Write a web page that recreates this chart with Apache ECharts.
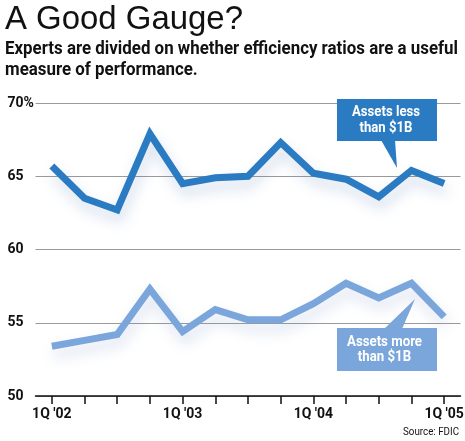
<!DOCTYPE html>
<html><head><meta charset="utf-8">
<script src="https://cdn.jsdelivr.net/npm/echarts@6/dist/echarts.min.js"></script>
<style>html,body{margin:0;padding:0;background:#fff}#c{width:465px;height:441px}</style>
</head><body><div id="c"></div>
<script>
const categories = ["1Q '02","2Q '02","3Q '02","4Q '02","1Q '03","2Q '03","3Q '03","4Q '03","1Q '04","2Q '04","3Q '04","4Q '04","1Q '05"];
const assetsLessThan1B = [65.7, 63.5, 62.7, 67.9, 64.5, 64.9, 65.0, 67.3, 65.2, 64.8, 63.6, 65.4, 64.5];
const assetsMoreThan1B = [53.4, 53.8, 54.2, 57.3, 54.4, 55.9, 55.2, 55.2, 56.3, 57.7, 56.7, 57.7, 55.4];
const yTicks = [50, 55, 60, 65, 70];
const xTickLabels = ["1Q '02", "1Q '03", "1Q '04", "1Q '05"];

const FONT = 'Roboto, "Liberation Sans", sans-serif';
const DARK = '#2b7bc3';
const LIGHT = '#7ba6db';

const ctx = document.createElement('canvas').getContext('2d');
function fitScale(text, font, target) {
  ctx.font = font;
  const w = Math.max(...text.split('\n').map(l => ctx.measureText(l).width));
  return target / w;
}

const subFont = 'bold 19px ' + FONT;
const subText = 'Experts are divided on whether efficiency ratios are a useful\nmeasure of performance.';
const calFont = 'bold 14px ' + FONT;
const titleFont = 'normal 34px "Liberation Sans", Arial, sans-serif';
const srcFont = 'normal 10px ' + FONT;

const chart = echarts.init(document.getElementById('c'), null, {renderer: 'canvas'});
chart.setOption({
  backgroundColor: '#fff',
  animation: false,
  grid: {left: 35.5, right: 4.5, top: 103, bottom: 45, containLabel: false, outerBoundsMode: 'none'},
  xAxis: {
    type: 'category',
    data: categories,
    boundaryGap: true,
    axisLine: {lineStyle: {color: '#111', width: 1.5}},
    axisTick: {show: true, alignWithLabel: true, interval: 0, length: 8, lineStyle: {color: '#111', width: 1.5}},
    axisLabel: {
      interval: 0, margin: 11,
      formatter: v => xTickLabels.includes(v) ? v : '',
      fontFamily: FONT, fontWeight: 'bold', fontSize: 14, color: '#111'
    },
    splitLine: {show: false}
  },
  yAxis: {
    type: 'value',
    min: yTicks[0], max: yTicks[yTicks.length - 1], interval: 5,
    axisLine: {show: false},
    axisTick: {show: false},
    axisLabel: {
      align: 'left', margin: 28,
      formatter: v => v === 70 ? '70%' : String(v),
      fontFamily: FONT, fontWeight: 'bold', fontSize: 14, color: '#111'
    },
    splitLine: {lineStyle: {color: '#9a9a9a', width: 1.2}}
  },
  series: [
    {
      name: 'Assets more than $1B', type: 'line', data: assetsMoreThan1B,
      symbol: 'none', z: 3,
      lineStyle: {color: LIGHT, width: 7, join: 'miter', cap: 'butt',
        shadowColor: 'rgba(110,140,190,0.28)', shadowBlur: 14, shadowOffsetX: 2, shadowOffsetY: 8}
    },
    {
      name: 'Assets less than $1B', type: 'line', data: assetsLessThan1B,
      symbol: 'none', z: 4,
      lineStyle: {color: DARK, width: 7, join: 'miter', cap: 'butt',
        shadowColor: 'rgba(80,120,180,0.28)', shadowBlur: 14, shadowOffsetX: 2, shadowOffsetY: 8}
    }
  ],
  graphic: [
    {type: 'text', x: 5, y: 3, z: 10, scaleX: fitScale('A Good Gauge?', titleFont, 238),
      style: {text: 'A Good Gauge?', font: titleFont, fill: '#111'}},
    {type: 'text', x: 5, y: 39, z: 10, scaleX: fitScale(subText, subFont, 453),
      style: {text: subText, font: subFont, lineHeight: 21, fill: '#111'}},
    {type: 'rect', z: 20, shape: {x: 337, y: 99, width: 100, height: 42}, style: {fill: DARK}},
    {type: 'polygon', z: 20, shape: {points: [[381, 140], [395, 140], [397, 168]]}, style: {fill: DARK}},
    {type: 'text', z: 21, x: 386, y: 120.5, scaleX: fitScale('Assets less', calFont, 68),
      style: {text: 'Assets less\nthan $1B', font: calFont, lineHeight: 15.5, fill: '#fff', align: 'center', verticalAlign: 'middle'}},
    {type: 'rect', z: 20, shape: {x: 337, y: 328, width: 100, height: 43}, style: {fill: LIGHT}},
    {type: 'polygon', z: 20, shape: {points: [[384, 329], [402, 329], [415, 299]]}, style: {fill: LIGHT}},
    {type: 'text', z: 21, x: 384.5, y: 350, scaleX: fitScale('Assets more', calFont, 75),
      style: {text: 'Assets more\nthan $1B', font: calFont, lineHeight: 15.5, fill: '#fff', align: 'center', verticalAlign: 'middle'}},
    {type: 'text', z: 10, x: 459, y: 432.5, scaleX: fitScale('Source: FDIC', srcFont, 56),
      style: {text: 'Source: FDIC', font: srcFont, fill: '#111', align: 'right', verticalAlign: 'middle'}}
  ]
});
</script>
</body></html>
